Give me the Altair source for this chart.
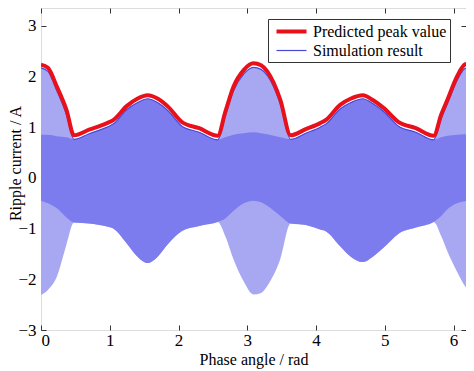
import altair as alt
import pandas as pd

# ---- data ----
phase = [0.00, 0.10, 0.23, 0.37, 0.48, 0.70, 0.96, 1.05, 1.25, 1.40,
         1.55, 1.70, 1.85, 2.05, 2.30, 2.57, 2.68, 2.80, 2.95, 3.09,
         3.20, 3.29, 3.48, 3.63, 3.85, 4.06, 4.15, 4.35, 4.50, 4.68,
         4.83, 4.98, 5.20, 5.45, 5.71, 5.82, 5.91, 6.05, 6.17, 6.28]

predicted_peak = [2.23, 2.17, 1.80, 1.34, 0.84, 0.95, 1.08, 1.14, 1.42, 1.56,
                  1.63, 1.56, 1.40, 1.10, 0.98, 0.83, 1.30, 1.80, 2.13, 2.26,
                  2.22, 2.10, 1.54, 0.84, 0.96, 1.08, 1.15, 1.44, 1.56, 1.63,
                  1.53, 1.38, 1.10, 0.98, 0.83, 1.25, 1.54, 2.00, 2.24, 2.26]

sim_upper = [2.17, 2.10, 1.72, 1.25, 0.76, 0.87, 1.00, 1.06, 1.35, 1.48,
             1.56, 1.48, 1.32, 1.02, 0.90, 0.75, 1.22, 1.72, 2.05, 2.18,
             2.14, 2.02, 1.46, 0.76, 0.88, 1.00, 1.07, 1.36, 1.48, 1.56,
             1.46, 1.31, 1.02, 0.90, 0.75, 1.17, 1.46, 1.92, 2.16, 2.18]

sim_lower = [-2.31, -2.21, -1.95, -1.32, -0.88, -0.90, -0.96, -1.00, -1.30, -1.55,
             -1.68, -1.55, -1.30, -1.05, -0.95, -0.87, -1.15, -1.61, -2.05, -2.30,
             -2.27, -2.13, -1.60, -0.90, -0.93, -1.02, -1.06, -1.35, -1.55, -1.66,
             -1.55, -1.38, -1.10, -0.98, -0.87, -1.15, -1.45, -1.85, -2.14, -2.24]

core_upper = [0.85, 0.85, 0.82, 0.80, 0.76, 0.87, 1.00, 1.06, 1.35, 1.48,
              1.56, 1.48, 1.32, 1.02, 0.90, 0.75, 0.80, 0.85, 0.88, 0.90,
              0.88, 0.86, 0.80, 0.76, 0.88, 1.00, 1.07, 1.36, 1.48, 1.56,
              1.46, 1.31, 1.02, 0.90, 0.75, 0.80, 0.83, 0.85, 0.86, 0.86]

core_lower = [-0.45, -0.50, -0.60, -0.78, -0.88, -0.90, -0.96, -1.00, -1.30, -1.55,
              -1.68, -1.55, -1.30, -1.05, -0.95, -0.87, -0.80, -0.65, -0.50, -0.45,
              -0.48, -0.55, -0.75, -0.90, -0.93, -1.02, -1.06, -1.35, -1.55, -1.66,
              -1.55, -1.38, -1.10, -0.98, -0.87, -0.75, -0.62, -0.50, -0.46, -0.45]

x_ticks = [0, 1, 2, 3, 4, 5, 6]
y_ticks = [-3, -2, -1, 0, 1, 2, 3]
series_names = ["Predicted peak value", "Simulation result"]

# ---- tables ----
band = pd.DataFrame({"phase": phase, "up": sim_upper, "lo": sim_lower,
                     "cu": core_upper, "cl": core_lower})
red_df = pd.DataFrame({"phase": phase, "value": predicted_peak,
                       "series": series_names[0]})
blue_df = pd.DataFrame({"phase": phase, "value": sim_upper,
                        "series": series_names[1]})

W, H = 425, 322
FONT = "Liberation Serif"

xs = alt.Scale(domain=[0, 6.18], nice=False, zero=False)
ys = alt.Scale(domain=[-3, 3.35], nice=False, zero=False)

color_scale = alt.Scale(domain=series_names, range=["#e8111b", "#4848d8"])
width_scale = alt.Scale(domain=series_names, range=[4, 1.2])
legend = alt.Legend(title=None, orient="none", legendX=227, legendY=11,
                    fillColor="white", strokeColor="#333", padding=3,
                    symbolType="M-2,0H2", symbolSize=225, symbolOffset=11,
                    rowPadding=2, labelOffset=12,
                    labelFont=FONT, labelFontSize=16, labelColor="black")

tick_axis = dict(labels=False, domain=False, grid=False, tickSize=5,
                 tickColor="#333", values=x_ticks, title=None)
ytick_axis = dict(labels=False, domain=False, grid=False, tickSize=5,
                  tickColor="#333", values=y_ticks, title=None)

light = alt.Chart(band).mark_area(color="#a8a8f2", clip=True, interpolate="monotone").encode(
    x=alt.X("phase:Q", scale=xs,
            axis=alt.Axis(values=x_ticks, tickSize=0, domain=False, grid=False,
                          labelFont=FONT, labelFontSize=17, labelColor="black",
                          labelPadding=2, title="Phase angle / rad",
                          titleFont=FONT, titleFontSize=16, titleFontWeight="normal",
                          titleColor="black", titlePadding=3)),
    y=alt.Y("up:Q", scale=ys,
            axis=alt.Axis(values=y_ticks, tickSize=0, domain=False, grid=False,
                          labelFont=FONT, labelFontSize=17, labelColor="black",
                          labelPadding=5, title="Ripple current / A",
                          titleFont=FONT, titleFontSize=16, titleFontWeight="normal",
                          titleColor="black", titleX=-18, titleY=155)),
    y2="lo:Q",
)

core = alt.Chart(band).mark_area(color="#7c7cee", clip=True, interpolate="monotone").encode(
    x=alt.X("phase:Q", scale=xs, axis=alt.Axis(orient="top", offset=-H, **tick_axis)),
    y=alt.Y("cu:Q", scale=ys, axis=alt.Axis(orient="right", offset=-W, **ytick_axis)),
    y2="cl:Q",
)

blue_line = alt.Chart(blue_df).mark_line(clip=True, interpolate="monotone").encode(
    x=alt.X("phase:Q", scale=xs, axis=alt.Axis(orient="bottom", offset=-H, **tick_axis)),
    y=alt.Y("value:Q", scale=ys, axis=alt.Axis(orient="left", offset=-W, **ytick_axis)),
    color=alt.Color("series:N", scale=color_scale, legend=legend),
    strokeWidth=alt.StrokeWidth("series:N", scale=width_scale, legend=legend),
)

red_line = alt.Chart(red_df).mark_line(clip=True, strokeJoin="round",
                                       interpolate="monotone").encode(
    x=alt.X("phase:Q", scale=xs, axis=None),
    y=alt.Y("value:Q", scale=ys, axis=None),
    color=alt.Color("series:N", scale=color_scale, legend=legend),
    strokeWidth=alt.StrokeWidth("series:N", scale=width_scale, legend=legend),
)

chart = alt.layer(light, core, blue_line, red_line).resolve_axis(
    x="independent", y="independent"
).properties(
    width=W, height=H,
    autosize=alt.AutoSizeParams(type="none"),
    padding={"left": 33, "top": 0, "right": 0, "bottom": 41},
).configure_view(stroke="#444", strokeWidth=1).configure(background="white")

chart.save("out.html", embed_options={"renderer": "svg", "actions": False})
